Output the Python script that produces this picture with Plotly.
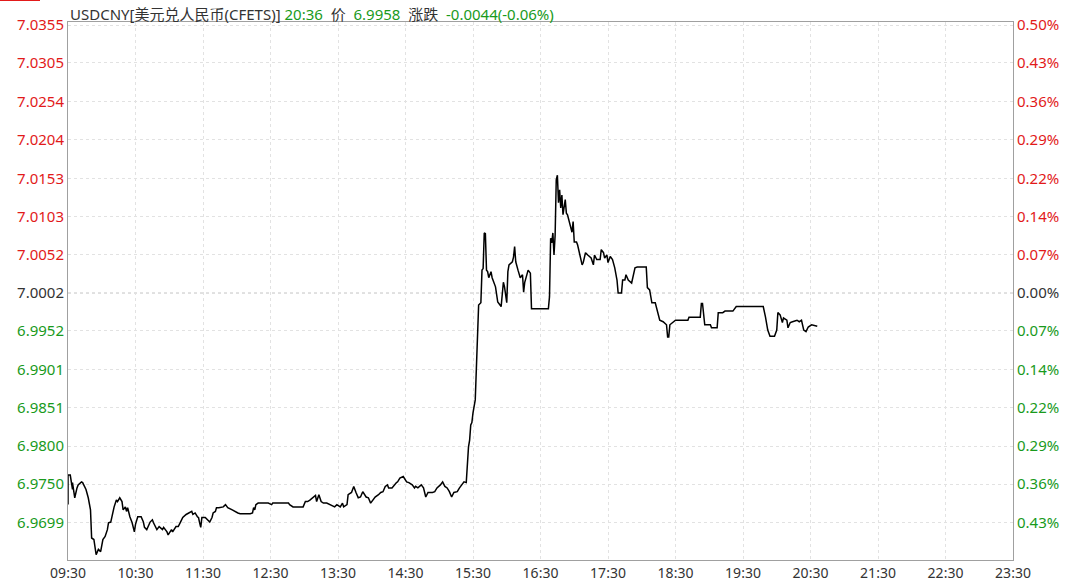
import plotly.graph_objects as go

# ---------------- data ----------------
prev_close = 7.0002

times = [
    "09:30", "09:30", "09:32", "09:34", "09:34", "09:36", "09:38", "09:39", "09:42", "09:43",
    "09:46", "09:48", "09:50", "09:51", "09:53", "09:55", "09:57", "09:59", "10:01", "10:03",
    "10:05", "10:06", "10:08", "10:10", "10:11", "10:13", "10:14", "10:16", "10:18", "10:19",
    "10:21", "10:22", "10:23", "10:25", "10:27", "10:29", "10:30", "10:32", "10:35", "10:37",
    "10:38", "10:40", "10:43", "10:45", "10:46", "10:49", "10:51", "10:54", "10:55", "10:58",
    "10:59", "11:02", "11:03", "11:06", "11:08", "11:10", "11:12", "11:15", "11:17", "11:20",
    "11:21", "11:23", "11:25", "11:26",
    "11:27", "11:28", "11:29", "11:32", "11:34", "11:36", "11:38", "11:39", "11:41", "11:42",
    "11:44", "11:46", "11:48", "11:50", "11:51", "11:52", "11:56", "11:58", "12:01", "12:03",
    "12:07", "12:12", "12:14", "12:15", "12:16", "12:17", "12:19", "12:22", "12:28", "12:31",
    "12:32", "12:37", "12:46", "12:47", "12:50", "12:52", "12:59", "13:01", "13:03", "13:05",
    "13:08", "13:10", "13:11", "13:13", "13:15", "13:17", "13:20", "13:23", "13:26",
    "13:27", "13:29", "13:32", "13:34", "13:35", "13:38", "13:39", "13:42", "13:43", "13:44",
    "13:46", "13:48", "13:50", "13:52", "13:55", "13:57", "13:59", "14:01", "14:03", "14:06",
    "14:08", "14:10", "14:12", "14:14", "14:15", "14:18", "14:20", "14:22", "14:23", "14:25",
    "14:28", "14:30", "14:31", "14:33", "14:36", "14:38", "14:39", "14:41", "14:44", "14:46",
    "14:47", "14:48", "14:50", "14:54", "14:56", "14:58", "15:01", "15:03", "15:05", "15:07",
    "15:09", "15:11", "15:13", "15:16", "15:18", "15:20", "15:22", "15:24",
    "15:25", "15:26", "15:27", "15:28", "15:29", "15:30", "15:32", "15:33", "15:34", "15:35",
    "15:37", "15:38", "15:39", "15:40", "15:41", "15:42", "15:43", "15:44", "15:46", "15:47",
    "15:50", "15:51", "15:52", "15:55", "15:56", "15:57", "15:58", "16:00", "16:01", "16:02",
    "16:05", "16:06", "16:07", "16:08", "16:10", "16:12", "16:14", "16:15", "16:16", "16:18",
    "16:19", "16:21", "16:22", "16:37", "16:38", "16:39", "16:40", "16:41", "16:42", "16:43",
    "16:44", "16:45", "16:46", "16:47", "16:48", "16:49", "16:50", "16:52", "16:53", "16:54",
    "16:56", "16:58", "16:59", "17:00", "17:02", "17:03", "17:05", "17:07", "17:08", "17:10",
    "17:12", "17:15", "17:17", "17:18", "17:20", "17:23", "17:24", "17:26", "17:27", "17:29",
    "17:30", "17:32", "17:34", "17:36", "17:38", "17:39", "17:42", "17:43", "17:45", "17:46",
    "17:48", "17:51", "17:54", "17:56", "18:04", "18:05", "18:07", "18:09", "18:12", "18:14",
    "18:15", "18:16", "18:19",
    "18:20", "18:22", "18:23", "18:24", "18:25", "18:28", "18:30", "18:34", "18:41", "18:42",
    "18:52", "18:53", "18:54", "18:56", "19:01", "19:02", "19:07", "19:08", "19:12", "19:14",
    "19:21", "19:24", "19:27", "19:48", "19:50", "19:51", "19:52", "19:54", "19:58", "20:00",
    "20:01", "20:03", "20:05", "20:06", "20:09", "20:10", "20:12", "20:14", "20:18", "20:20",
    "20:22", "20:24", "20:26", "20:28", "20:31", "20:36",
]

prices = [
    6.9723, 6.9762, 6.9762, 6.9743, 6.9752, 6.9732, 6.9745, 6.9749, 6.9753, 6.9752,
    6.9743, 6.9732, 6.9716, 6.9679, 6.9677, 6.9657, 6.9664, 6.9661, 6.9677, 6.9681,
    6.9690, 6.9699, 6.9700, 6.9716, 6.9720, 6.9729, 6.9727, 6.9732, 6.9727, 6.9716,
    6.9720, 6.9714, 6.9719, 6.9707, 6.9699, 6.9687, 6.9697, 6.9707, 6.9707, 6.9700,
    6.9693, 6.9690, 6.9700, 6.9703, 6.9699, 6.9690, 6.9694, 6.9690, 6.9693, 6.9687,
    6.9683, 6.9690, 6.9687, 6.9694, 6.9694, 6.9700, 6.9706, 6.9710, 6.9712, 6.9714,
    6.9710, 6.9712, 6.9707, 6.9706,
    6.9699, 6.9693, 6.9706, 6.9706, 6.9703, 6.9700, 6.9706, 6.9712, 6.9714, 6.9719,
    6.9719, 6.9720, 6.9720, 6.9723, 6.9720, 6.9719, 6.9716, 6.9714, 6.9712, 6.9711,
    6.9711, 6.9711, 6.9712, 6.9719, 6.9716, 6.9723, 6.9725, 6.9725, 6.9725, 6.9723,
    6.9725, 6.9725, 6.9725, 6.9723, 6.9720, 6.9720, 6.9720, 6.9727, 6.9727, 6.9729,
    6.9732, 6.9735, 6.9727, 6.9736, 6.9727, 6.9725, 6.9725, 6.9723, 6.9720,
    6.9720, 6.9723, 6.9720, 6.9725, 6.9720, 6.9723, 6.9736, 6.9739, 6.9745, 6.9747,
    6.9739, 6.9732, 6.9733, 6.9740, 6.9733, 6.9732, 6.9725, 6.9729, 6.9733, 6.9736,
    6.9739, 6.9740, 6.9747, 6.9749, 6.9745, 6.9745, 6.9749, 6.9752, 6.9753, 6.9758,
    6.9760, 6.9756, 6.9753, 6.9752, 6.9749, 6.9745, 6.9747, 6.9745, 6.9749, 6.9745,
    6.9739, 6.9733, 6.9739, 6.9739, 6.9740, 6.9745, 6.9749, 6.9753, 6.9747, 6.9745,
    6.9740, 6.9733, 6.9739, 6.9740, 6.9745, 6.9749, 6.9753, 6.9752,
    6.9782, 6.9799, 6.9808, 6.9828, 6.9831, 6.9844, 6.9861, 6.9901, 6.9949, 6.9986,
    6.9989, 7.0032, 7.0034, 7.0081, 7.0080, 7.0032, 7.0030, 7.0022, 7.0030, 7.0022,
    7.0010, 6.9995, 6.9990, 6.9984, 7.0003, 7.0016, 7.0010, 6.9989, 7.0030, 7.0039,
    7.0043, 7.0049, 7.0063, 7.0043, 7.0032, 7.0022, 7.0026, 7.0003, 7.0016, 7.0028,
    7.0032, 7.0028, 6.9981, 6.9981, 6.9997, 7.0074, 7.0068, 7.0081, 7.0052, 7.0078,
    7.0151, 7.0157, 7.0121, 7.0138, 7.0114, 7.0131, 7.0105, 7.0125, 7.0107, 7.0105,
    7.0094, 7.0082, 7.0096, 7.0069, 7.0069, 7.0065, 7.0052, 7.0039, 7.0042, 7.0055,
    7.0052, 7.0048, 7.0039, 7.0052, 7.0046, 7.0046, 7.0059, 7.0055, 7.0048, 7.0052,
    7.0042, 7.0050, 7.0046, 7.0035, 7.0019, 7.0002, 7.0002, 7.0019, 7.0019, 7.0026,
    7.0019, 7.0015, 7.0035, 7.0036, 7.0036, 7.0009, 7.0006, 6.9989, 6.9989, 6.9976,
    6.9973, 6.9966, 6.9964,
    6.9963, 6.9960, 6.9944, 6.9944, 6.9960, 6.9963, 6.9966, 6.9966, 6.9966, 6.9970,
    6.9970, 6.9988, 6.9988, 6.9960, 6.9960, 6.9956, 6.9956, 6.9976, 6.9976, 6.9978,
    6.9978, 6.9984, 6.9984, 6.9984, 6.9970, 6.9960, 6.9953, 6.9945, 6.9945, 6.9953,
    6.9976, 6.9973, 6.9963, 6.9969, 6.9966, 6.9956, 6.9963, 6.9964, 6.9966, 6.9964,
    6.9966, 6.9953, 6.9951, 6.9957, 6.9960, 6.9958,
]

price_ticks = [7.0355, 7.0305, 7.0254, 7.0204, 7.0153, 7.0103, 7.0052, 7.0002,
               6.9952, 6.9901, 6.9851, 6.9800, 6.9750, 6.9699]
pct_labels = ["0.50%", "0.43%", "0.36%", "0.29%", "0.22%", "0.14%", "0.07%", "0.00%",
              "0.07%", "0.14%", "0.22%", "0.29%", "0.36%", "0.43%"]
hour_labels = ["09:30", "10:30", "11:30", "12:30", "13:30", "14:30", "15:30", "16:30",
               "17:30", "18:30", "19:30", "20:30", "21:30", "22:30", "23:30"]
y_range = [6.9650, 7.0359]

# ---------------- styling ----------------
RED = "#e21a1a"
GREEN = "#199a1c"
DARK = "#333333"
FONT = "Noto Sans, Noto Sans CJK SC, sans-serif"
day = "2024-01-02 "

def tint(v):
    if v > prev_close + 1e-9:
        return RED
    if v < prev_close - 1e-9:
        return GREEN
    return DARK

left_text = [f"<span style='color:{tint(v)}'>{v:.4f}</span>" for v in price_ticks]
right_text = [f"<span style='color:{tint(v)}'>{t}</span>" for v, t in zip(price_ticks, pct_labels)]

x = [day + t for t in times]
x_ticks = [day + h for h in hour_labels]

fig = go.Figure()
fig.add_trace(go.Scatter(x=x, y=prices, mode="lines",
                         line=dict(color="#000000", width=1.5), hoverinfo="skip",
                         showlegend=False))
fig.add_trace(go.Scatter(x=[x[0]], y=[prices[0]], yaxis="y2", mode="lines",
                         line=dict(width=0), hoverinfo="skip", showlegend=False))

fig.add_hline(y=prev_close, line=dict(color="#b0b0b0", width=1, dash="dot"), layer="below")

fig.update_layout(
    width=1080, height=583,
    margin=dict(l=68, r=67, t=22, b=23, autoexpand=False),
    paper_bgcolor="white", plot_bgcolor="white",
    font=dict(family=FONT, size=15, color=DARK),
    xaxis=dict(
        type="date", range=[x_ticks[0], x_ticks[-1]],
        tickvals=x_ticks, ticktext=hour_labels, automargin=False,
        showgrid=True, gridcolor="#e2e2e2", griddash="dot", gridwidth=1,
        showline=True, linecolor="#a0a0a0", linewidth=1, mirror=True,
        ticks="", zeroline=False, tickfont=dict(size=14, color=DARK),
    ),
    yaxis=dict(
        range=y_range, tickvals=price_ticks, ticktext=left_text, automargin=False,
        showgrid=True, gridcolor="#e2e2e2", griddash="dot", gridwidth=1,
        showline=True, linecolor="#a0a0a0", linewidth=1,
        ticks="", zeroline=False, tickfont=dict(size=15),
    ),
    yaxis2=dict(
        range=y_range, tickvals=price_ticks, ticktext=right_text, automargin=False,
        overlaying="y", side="right", showgrid=False,
        showline=True, linecolor="#a0a0a0", linewidth=1,
        ticks="", zeroline=False, tickfont=dict(size=15),
    ),
)

title_html = (
    f"<span style='color:{DARK}'>USDCNY[美元兑人民币(CFETS)]</span> "
    f"<span style='color:{GREEN}'>20:36</span>&nbsp; "
    f"<span style='color:{DARK}'>价</span>&nbsp; "
    f"<span style='color:{GREEN}'>6.9958</span>&nbsp; "
    f"<span style='color:{DARK}'>涨跌</span>&nbsp; "
    f"<span style='color:{GREEN}'>-0.0044(-0.06%)</span>"
)
fig.add_annotation(text=title_html, xref="paper", yref="paper", x=0, y=1,
                   xanchor="left", yanchor="bottom", showarrow=False, yshift=-4,
                   font=dict(family=FONT, size=15))

fig.add_shape(type="line", xref="paper", yref="paper", x0=-68 / 945, x1=-28 / 945,
              y0=1 + 22 / 538, y1=1 + 22 / 538, line=dict(color=RED, width=2))

fig.write_html("out.html", config={"displayModeBar": False})

# remove the default page margin so the figure sits at the window's top-left corner
with open("out.html", "r", encoding="utf-8") as fh:
    page = fh.read()
page = page.replace("<body>", "<body style=\"margin:0;padding:0;overflow:hidden\">", 1)
with open("out.html", "w", encoding="utf-8") as fh:
    fh.write(page)
